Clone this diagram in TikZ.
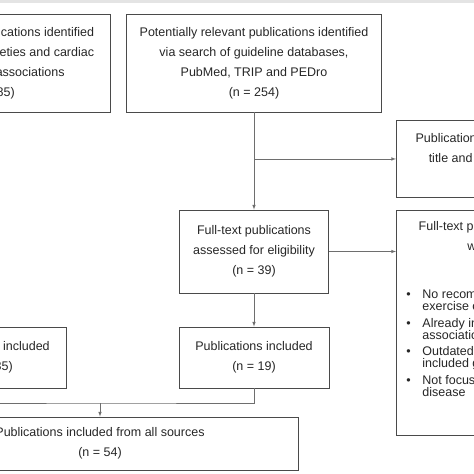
\documentclass[tikz,border=0pt]{standalone}
\usepackage{fontspec}
\setmainfont{Liberation Sans}
\usetikzlibrary{positioning}
\usetikzlibrary{calc}
\definecolor{frame-grey}{HTML}{4A4A4A}
\colorlet{link}{frame-grey!80!white}
\definecolor{page-grey}{HTML}{E4E4E4}
\newcommand{\flowfont}{\fontsize{12.5}{20}\selectfont}
\newcommand{\listfont}{\fontsize{12.5}{12}\selectfont\lineskiplimit=-10pt\raggedright}
\newcommand{\listitem}[2]{\noindent\makebox[26pt][l]{\hspace{9.8pt}\textbullet}#1\\\hspace*{26pt}#2\par}

\begin{document}
\begin{tikzpicture}[x=1pt, y=-1pt,
  box/.style={draw=frame-grey, line width=0.9pt, align=center, inner sep=0pt, text=black!85, font=\flowfont},
  connector/.style={draw=link, line width=0.6pt}]
\useasboundingbox (0,0) rectangle (474,474);
\clip (0,0) rectangle (474,474);
% grey strip on top
\fill[page-grey] (0,0) rectangle (474,3);
% sources
\node[box, minimum width=234pt, minimum height=98pt] (societies) at (-7,63)
  {Other relevant publications identified\\via websites of societies and cardiac\\rehabilitation associations\\(n = 85)};
\node[box, minimum width=255pt, minimum height=98pt] (databases) at (254,63)
  {Potentially relevant publications identified\\via search of guideline databases,\\PubMed, TRIP and PEDro\\(n = 254)};
% screening
\node[box, anchor=north west, minimum width=214pt, minimum height=77pt] (titleexcl) at (396,120)
  {Publications excluded based on\\title and abstract screening\\(n = 215)};
\node[box, minimum width=149pt, minimum height=83pt] (fulltext) at (254,251.5)
  {Full-text publications\\assessed for eligibility\\(n = 39)};
\node[box, anchor=north west] (fullexcl) at (396,210)
  {\parbox[c][225pt][t]{212pt}{\vspace*{11pt}%
    {\centering Full-text publications excluded\\with reasons\\(n = 20)\par}
    \vspace{16pt}
    {\listfont
      \listitem{No recommendations on}{exercise or physical activity}\vspace{4.5pt}
      \listitem{Already included via cardiac}{associations}\vspace{4.5pt}
      \listitem{Outdated version, newer version}{included guideline}\vspace{4.5pt}
      \listitem{Not focused on cardiovascular}{disease}}}};
% included
\node[box, minimum width=150pt, minimum height=61pt] (includedsoc) at (-9,357.5)
  {Publications included\\(n = 35)};
\node[box, minimum width=150pt, minimum height=61pt] (includeddb) at (254,357.5)
  {Publications included\\(n = 19)};
\node[box, minimum width=396pt, minimum height=53pt] (allsources) at (100,443.5)
  {Publications included from all sources\\(n = 54)};
% connectors
\draw[connector,-latex] (databases.south) -- (fulltext.north);
\draw[connector,-latex] (databases.south |- titleexcl.west) -- (titleexcl.west);
\draw[connector,-latex] (fulltext.east) -- (fulltext.east -| fullexcl.west);
\draw[connector,-latex] (fulltext.south) -- (includeddb.north);
\coordinate (merge) at (100,403);
\draw[connector] (includedsoc.south) |- (merge) -| (includeddb.south);
\draw[connector,-latex] (merge) -- (allsources.north);
\end{tikzpicture}
\end{document}
